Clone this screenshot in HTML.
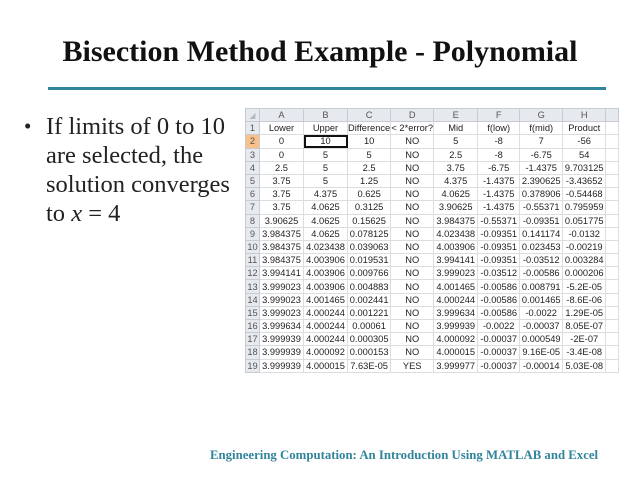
<!DOCTYPE html>
<html><head><meta charset="utf-8">
<style>
html,body{margin:0;padding:0;background:#fff;}
#slide{position:relative;width:638px;height:478px;overflow:hidden;background:#fff;}
#title{position:absolute;left:0;width:640px;top:35px;text-align:center;font-family:"Liberation Serif",serif;font-weight:bold;font-size:30px;color:#111;white-space:nowrap;}
#rule{position:absolute;left:48px;top:87px;width:558px;height:3px;background:#31849b;}
#bullet{position:absolute;left:24px;top:112px;font-family:"Liberation Serif",serif;font-size:24.5px;line-height:29px;color:#222;}
#bullet .dot{position:absolute;left:0;top:0;font-size:21px;}
#bullet .txt{position:absolute;left:22px;top:0;white-space:nowrap;}
#footer{position:absolute;left:210px;top:448px;font-family:"Liberation Serif",serif;font-weight:bold;font-size:12.8px;color:#31849b;white-space:nowrap;}
#sheet{position:absolute;left:245px;top:108px;border-collapse:collapse;font-family:"Liberation Sans",sans-serif;font-size:9.3px;color:#222;table-layout:fixed;}
#sheet td{border:1px solid #dadde2;height:12.2px;padding:0;text-align:center;white-space:nowrap;overflow:visible;}
#sheet tr.hdr td{background:#e6eaef;color:#555;border-color:#c8ccd2;}
#sheet td.rn{background:#e6eaef;color:#555;border-color:#c8ccd2;}
#sheet td.sel{background:#f9c08a;}
#sheet td.act{outline:2px solid #111;outline-offset:-2px;}
</style></head>
<body>
<div id="slide">
  <div id="title">Bisection Method Example - Polynomial</div>
  <div id="rule"></div>
  <div id="bullet">
    <span class="dot">•</span>
    <div class="txt">If limits of 0 to 10<br>are selected, the<br>solution converges<br>to <i>x</i> = 4</div>
  </div>
  <table id="sheet">
    <colgroup><col style="width:14px"><col style="width:44px"><col style="width:44px"><col style="width:43px"><col style="width:43px"><col style="width:44px"><col style="width:42px"><col style="width:43px"><col style="width:43px"><col style="width:13px"></colgroup>
    <tbody id="tb"></tbody>
  </table>
  <div id="footer">Engineering Computation: An Introduction Using MATLAB and Excel</div>
</div>
<script>
const colLetters=["A","B","C","D","E","F","G","H"];
const headers=["Lower","Upper","Difference","< 2*error?","Mid","f(low)","f(mid)","Product"];
const lower=["0","0","2.5","3.75","3.75","3.75","3.90625","3.984375","3.984375","3.984375","3.994141","3.999023","3.999023","3.999023","3.999634","3.999939","3.999939","3.999939"];
const upper=["10","5","5","5","4.375","4.0625","4.0625","4.0625","4.023438","4.003906","4.003906","4.003906","4.001465","4.000244","4.000244","4.000244","4.000092","4.000015"];
const diff=["10","5","2.5","1.25","0.625","0.3125","0.15625","0.078125","0.039063","0.019531","0.009766","0.004883","0.002441","0.001221","0.00061","0.000305","0.000153","7.63E-05"];
const conv=["NO","NO","NO","NO","NO","NO","NO","NO","NO","NO","NO","NO","NO","NO","NO","NO","NO","YES"];
const mid=["5","2.5","3.75","4.375","4.0625","3.90625","3.984375","4.023438","4.003906","3.994141","3.999023","4.001465","4.000244","3.999634","3.999939","4.000092","4.000015","3.999977"];
const flow=["-8","-8","-6.75","-1.4375","-1.4375","-1.4375","-0.55371","-0.09351","-0.09351","-0.09351","-0.03512","-0.00586","-0.00586","-0.00586","-0.0022","-0.00037","-0.00037","-0.00037"];
const fmid=["7","-6.75","-1.4375","2.390625","0.378906","-0.55371","-0.09351","0.141174","0.023453","-0.03512","-0.00586","0.008791","0.001465","-0.0022","-0.00037","0.000549","9.16E-05","-0.00014"];
const product=["-56","54","9.703125","-3.43652","-0.54468","0.795959","0.051775","-0.0132","-0.00219","0.003284","0.000206","-5.2E-05","-8.6E-06","1.29E-05","8.05E-07","-2E-07","-3.4E-08","5.03E-08"];

const tb=document.getElementById('tb');
function cell(tr,text,cls,name){
  const td=document.createElement('td');
  td.textContent=text;
  if(cls) td.className=cls;
  
  
  tr.appendChild(td);
  return td;
}
let tr=document.createElement('tr');
tr.className='hdr';


const corner=cell(tr,'◢','rn','select-all-corner');
corner.style.color='#b8bcc2';corner.style.fontSize='8px';
colLetters.forEach((c,i)=>{cell(tr,c,i===1?'sel':'','column-header-'+c.toLowerCase());});
cell(tr,'','','column-header-extra');
tb.appendChild(tr);

tr=document.createElement('tr');


cell(tr,'1','rn','row-number-1');
headers.forEach((h,i)=>cell(tr,h,'','header-cell-'+colLetters[i].toLowerCase()));
cell(tr,'','','extra-cell');
tb.appendChild(tr);

const cols=[lower,upper,diff,conv,mid,flow,fmid,product];
for(let r=0;r<lower.length;r++){
  tr=document.createElement('tr');
  
  
  cell(tr,String(r+2),r===0?'rn sel':'rn','row-number-'+(r+2));
  cols.forEach((arr,i)=>{
    cell(tr,arr[r],(r===0&&i===1)?'act':'','cell-'+colLetters[i].toLowerCase()+(r+2));
  });
  cell(tr,'','','extra-cell');
  tb.appendChild(tr);
}
</script>
</body></html>
